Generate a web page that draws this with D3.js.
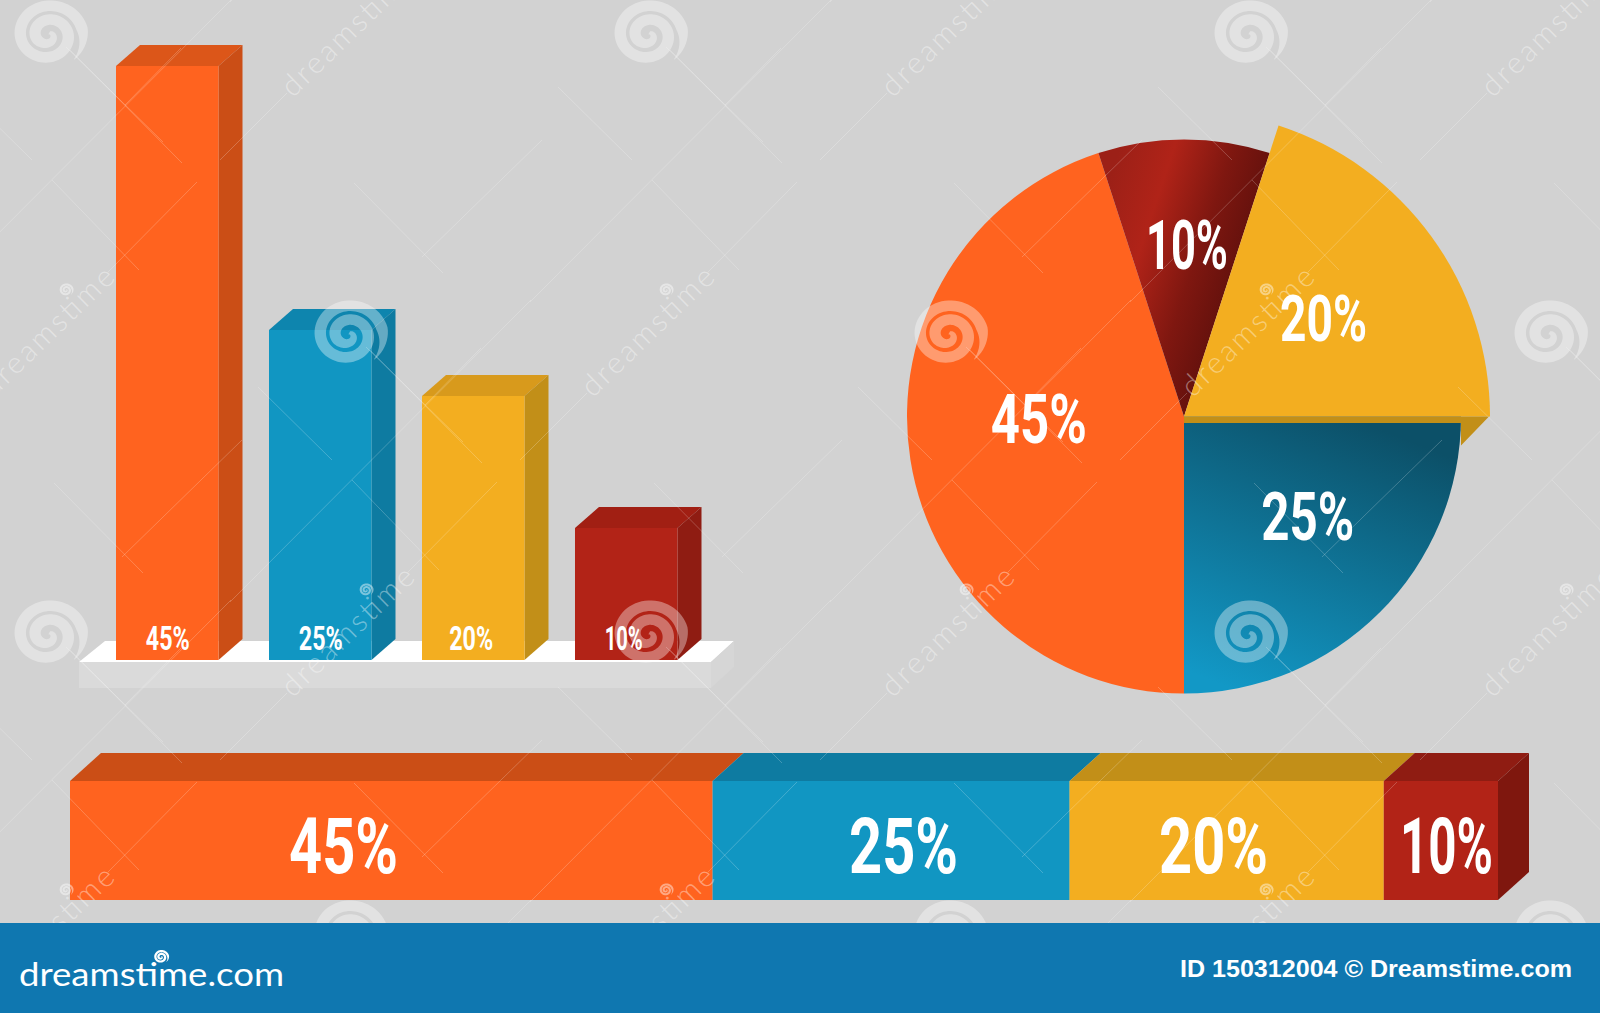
<!DOCTYPE html>
<html><head><meta charset="utf-8">
<script src="https://cdnjs.cloudflare.com/ajax/libs/d3/7.8.5/d3.min.js"></script>
<style>html,body{margin:0;padding:0;background:#d2d2d2;overflow:hidden}svg{display:block}</style>
</head><body><svg id="c" width="1600" height="1013" xmlns="http://www.w3.org/2000/svg"></svg>
<script>
// ---- data ----
const categories = ["orange", "blue", "yellow", "red"];
const values = [45, 25, 20, 10];
const tickLabels = ["45%", "25%", "20%", "10%"];
// the stacked bar's drawn widths differ from its labels in the picture
const stripShares = [45, 25, 22, 8];
// clockwise drawing order of the pie
const pieOrder = ["orange", "red", "yellow", "blue"];
const footerBrand = "dreamstime.com";
const footerId = "ID 150312004 © Dreamstime.com";
const watermarkWord = "dreamstime";

// ---- styles ----
const front = {orange:"#ff631f", blue:"#1196c2", yellow:"#f3ae20", red:"#b22317"};
const top3d = {orange:"#dc5619", blue:"#0e85ae", yellow:"#d89a1c", red:"#a11f13"};
const side  = {orange:"#cb4e16", blue:"#0e7ba1", yellow:"#c28f18", red:"#8f1c12"};
const stripTop = {orange:"#cb4e16", blue:"#0e7ba1", yellow:"#c28f18", red:"#8f1c12"};
const labelFont = "'Liberation Sans Narrow','Roboto','Liberation Sans',sans-serif";

const svg = d3.select("#c");
svg.append("rect").attr("width",1600).attr("height",1013).attr("fill","#d2d2d2");
const defs = svg.append("defs");
const poly = pts => "M" + pts.map(p => p.join(",")).join("L") + "Z";

function label(g, txt, cx, base, w, cap){
  g.append("text").attr("x",cx).attr("y",base).attr("text-anchor","middle")
    .attr("font-family",labelFont).attr("font-weight",700)
    .attr("font-size",cap/0.71).attr("fill","#fff")
    .attr("textLength",w).attr("lengthAdjust","spacingAndGlyphs").text(txt);
}

// ---- 3D bars ----
const x = d3.scaleBand().domain(categories).range([116,677.5]).paddingInner(0.33);
const y = d3.scaleLinear().domain([0,45]).range([660,66]);
const dx = 24, dy = 21;
const gBars = svg.append("g");
gBars.append("path").attr("d",poly([[79,662],[105,641],[734,641],[711,662]])).attr("fill","#fff");
gBars.append("rect").attr("x",79).attr("y",662).attr("width",632).attr("height",26).attr("fill","#dadada");
gBars.append("path").attr("d",poly([[711,662],[734,641],[734,667],[711,688]])).attr("fill","#d6d6d6");
categories.forEach((c,i)=>{
  const l = x(c), r = l + x.bandwidth(), t = y(values[i]), b = y(0);
  gBars.append("path").attr("d",poly([[l,t],[l+dx,t-dy],[r+dx,t-dy],[r,t]])).attr("fill",top3d[c]);
  gBars.append("path").attr("d",poly([[r,t],[r+dx,t-dy],[r+dx,b-dy],[r,b]])).attr("fill",side[c]);
  gBars.append("rect").attr("x",l).attr("y",t).attr("width",x.bandwidth()).attr("height",b-t).attr("fill",front[c]);
  label(gBars, tickLabels[i], l + x.bandwidth()/2 + (c==="red"?-2.5:(c==="yellow"?-2:0.5)), 650, c==="red"?38:44, 23);
});

// ---- pie ----
const cx = 1184, cy = 416.5, R = 277, Ryellow = 306;
const gradRed = defs.append("linearGradient").attr("id","gRed").attr("gradientUnits","userSpaceOnUse")
  .attr("x1",1105-cx).attr("y1",190-cy).attr("x2",1270-cx).attr("y2",245-cy);
[[0,"#9c2017"],[0.3,"#b02318"],[0.62,"#7f1710"],[1,"#560e0b"]].forEach(s=>gradRed.append("stop").attr("offset",s[0]).attr("stop-color",s[1]));
const gradBlue = defs.append("linearGradient").attr("id","gBlue").attr("gradientUnits","userSpaceOnUse")
  .attr("x1",1345-cx).attr("y1",415-cy).attr("x2",1235-cx).attr("y2",690-cy);
[[0,"#0c5068"],[1,"#1298c6"]].forEach(s=>gradBlue.append("stop").attr("offset",s[0]).attr("stop-color",s[1]));
const pieFill = {orange:front.orange, red:"url(#gRed)", yellow:front.yellow, blue:"url(#gBlue)"};
const pieData = pieOrder.map(c=>({c, v:values[categories.indexOf(c)], t:tickLabels[categories.indexOf(c)]}));
const pie = d3.pie().value(d=>d.v).sort(null).startAngle(Math.PI).endAngle(3*Math.PI);
const arcs = pie(pieData);
const arcGen = d3.arc().innerRadius(0);
const gPie = svg.append("g").attr("transform",`translate(${cx},${cy})`);
["blue","orange","red","yellow"].forEach(c=>{
  const a = arcs.find(d=>d.data.c===c);
  gPie.append("path").attr("d",arcGen.outerRadius(c==="yellow"?Ryellow:R)(a)).attr("fill",pieFill[c]);
});
gPie.append("path").attr("d",poly([[0,0],[Ryellow-1,0],[R,29],[R,6.5],[0,6.5]])).attr("fill",side.yellow);
const pieLabel = {orange:{r:147,nx:0,ny:-21,w:96,cap:48}, blue:{r:158,nx:12,ny:-12,w:93,cap:47},
                  yellow:{r:170,nx:2,ny:1,w:87,cap:46}, red:{r:172,nx:3,ny:0,w:82,cap:48}};
arcs.forEach(a=>{
  const s = pieLabel[a.data.c], m = (a.startAngle+a.endAngle)/2;
  const px = Math.sin(m)*s.r + s.nx, py = -Math.cos(m)*s.r + s.ny;
  label(gPie, a.data.t, px, py + s.cap/2, s.w, s.cap);
});

// ---- stacked strip ----
const sx = d3.scaleLinear().domain([0,100]).range([70,1498]);
const cum = [0, ...d3.cumsum(stripShares)];
const gStrip = svg.append("g");
const st = 781, sb = 900, sdx = 31, sdy = 28;
const stripLabelCx = [343.5, 903.5, 1213.5, 1446.5];
categories.forEach((c,i)=>{
  const l = sx(cum[i]), r = sx(cum[i+1]);
  gStrip.append("path").attr("d",poly([[l,st],[l+sdx,st-sdy],[r+sdx,st-sdy],[r,st]])).attr("fill",stripTop[c]);
  gStrip.append("rect").attr("x",l).attr("y",st).attr("width",r-l).attr("height",sb-st).attr("fill",front[c]);
});
{ const r = sx(100);
  gStrip.append("path").attr("d",poly([[r,st],[r+sdx,st-sdy],[r+sdx,sb-sdy],[r,sb]])).attr("fill","#7f170e");
}
categories.forEach((c,i)=> label(gStrip, tickLabels[i], stripLabelCx[i], 873, c==="red"?93:109, 55));

// ---- watermark ----
function spiral(cxp, cyp, Rp, sel, op){
  const n = 160, turns = 2.3, end = Math.PI/4;
  const outer = [], inner = [];
  for(let i=0;i<=n;i++){
    const t = i/n, th = end - (1-t)*turns*2*Math.PI;
    const rr = Rp*(0.07+0.93*t);
    const w = Rp*0.31*Math.min(1,0.35+t*2.5)*Math.min(1,(1-t)*14+0.05);
    outer.push([cxp+Math.cos(th)*(rr+w/2), cyp+Math.sin(th)*(rr+w/2)*0.93]);
    inner.push([cxp+Math.cos(th)*Math.max(0,rr-w/2), cyp+Math.sin(th)*Math.max(0,rr-w/2)*0.93]);
  }
  sel.append("path").attr("d",poly(outer.concat(inner.reverse()))).attr("fill","#fff").attr("fill-opacity",op);
}
defs.append("clipPath").attr("id","wmClip").append("rect").attr("width",1600).attr("height",923);
const wm = svg.append("g").attr("clip-path","url(#wmClip)");
const motif = [[54,183,143,273],[122,257,242,140],[230,302,531,0],[408,272,497,182],[370,50,482,163],
               [520,160,587,93],[66,347,163,442],[125,405,181,348],[258,87,332,160],[352,180,439,270]];
for(let j=-1;j<=3;j++) for(let i=-1;i<=3;i++){
  const ox = i*600 + (((j%2)+2)%2)*300 - 300, oy = j*300;
  motif.forEach(m=> wm.append("line").attr("x1",m[0]+ox).attr("y1",m[1]+oy).attr("x2",m[2]+ox).attr("y2",m[3]+oy)
    .attr("stroke","#fff").attr("stroke-opacity",0.22).attr("stroke-width",1));
}
for(let j=0;j<4;j++) for(let i=-1;i<3;i++){
  const py = 33 + j*300;
  const spx = 49 + i*600 + (j%2)*300, txx = 349 + i*600 + (j%2)*300;
  spiral(spx-1, py+2, 37, wm, 0.36);
  const g = wm.append("g").attr("transform",`translate(${txx},${py}) rotate(-44)`);
  g.append("text").attr("text-anchor","middle").attr("y",8).attr("font-family","Lato,'Open Sans',sans-serif")
    .attr("font-weight",300).attr("font-size",30).attr("fill","#fff").attr("fill-opacity",0.4)
    .attr("textLength",172).attr("lengthAdjust","spacing").text(watermarkWord);
  spiral(txx+17, py-43, 7, wm, 0.45);
}

// ---- footer ----
const gF = svg.append("g");
gF.append("rect").attr("y",923).attr("width",1600).attr("height",90).attr("fill","#0f77b0");
gF.append("text").attr("x",19).attr("y",986).attr("font-family","Lato,'Open Sans',sans-serif").attr("font-weight",400)
  .attr("font-size",33).attr("fill","#fff").attr("textLength",265).attr("lengthAdjust","spacingAndGlyphs").text(footerBrand);
spiral(161, 957, 7.5, gF, 1);
gF.append("text").attr("x",1180).attr("y",977).attr("font-family","'Liberation Sans',Arial,sans-serif").attr("font-weight",700)
  .attr("font-size",24).attr("fill","#fff").attr("textLength",392).attr("lengthAdjust","spacingAndGlyphs").text(footerId);
</script></body></html>
